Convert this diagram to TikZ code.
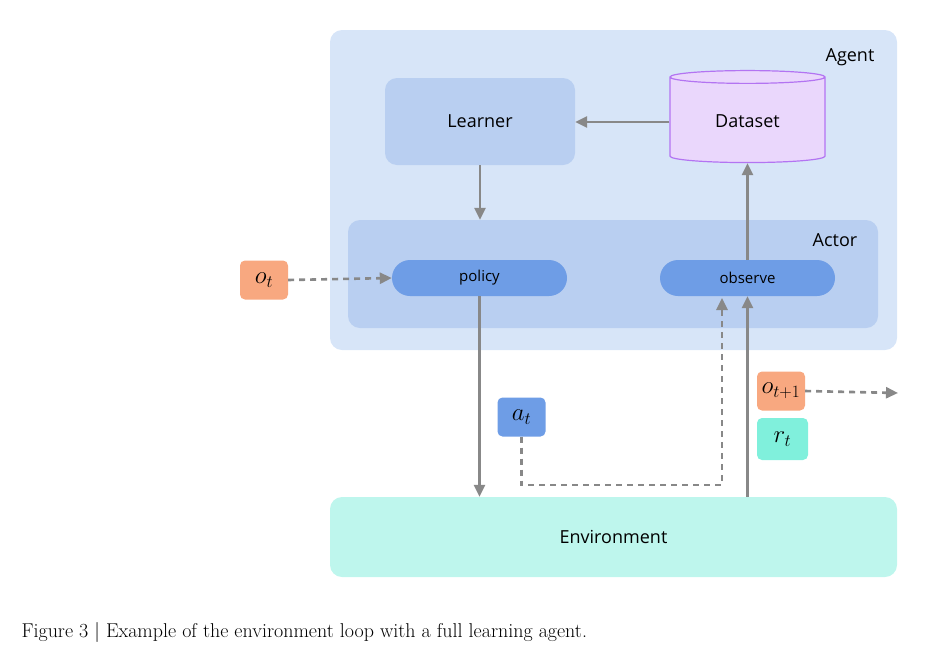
\documentclass[tikz,border=0pt]{standalone}
\usepackage{fontspec}
\setmainfont{Open Sans}
\newfontfamily\capfont{Latin Modern Roman}
\usetikzlibrary{shapes.geometric}
\usetikzlibrary{arrows.meta}
\definecolor{agentbg}{HTML}{D7E5F8}
\definecolor{inner}{HTML}{B9CFF1}
\definecolor{pill}{HTML}{6E9DE6}
\definecolor{dataf}{HTML}{EAD7FC}
\definecolor{datad}{HTML}{B374F2}
\definecolor{obs}{HTML}{F8A880}
\definecolor{rew}{HTML}{80F0DC}
\definecolor{envf}{HTML}{BEF6ED}
\definecolor{conn}{HTML}{888888}
\tikzset{
  box/.style={rounded corners=12pt,inner sep=0pt},
  tag/.style={rounded corners=5pt,inner sep=0pt,minimum width=48pt,minimum height=39pt,font=\fontsize{24}{24}\selectfont},
  flow/.style={line width=2.6pt,conn,-{Triangle[length=12pt,width=11pt]}},
  dflow/.style={flow,dash pattern=on 6pt off 5pt},
}
\begin{document}
\begin{tikzpicture}[x=1pt,y=-1pt]
    \useasboundingbox (0,0) rectangle (930,665);
    % Agent
    \node[box,fill=agentbg,minimum width=567pt,minimum height=320pt] (agent) at (613.5,190) {};
    \node[font=\fontsize{18}{18}\selectfont] (agentlbl) at (850,57) {Agent};
    \node[box,fill=inner,minimum width=190pt,minimum height=87pt,font=\fontsize{18}{18}\selectfont] (learner) at (480,121.5) {Learner};
    \node[cylinder,shape border rotate=90,aspect=0.18,draw=datad,line width=1.2pt,fill=dataf,minimum width=155pt,minimum height=92pt,font=\fontsize{18}{18}\selectfont] (dataset) at (747.5,121) {Dataset};
    % Actor
    \node[box,fill=inner,minimum width=530pt,minimum height=108pt] (actor) at (613,274) {};
    \node[font=\fontsize{18}{18}\selectfont] (actorlbl) at (835,240) {Actor};
    \node[box,rounded corners=18pt,fill=pill,minimum width=175pt,minimum height=36pt,font=\fontsize{15}{15}\selectfont] (policy) at (479.5,278) {policy};
    \node[box,rounded corners=18pt,fill=pill,minimum width=175pt,minimum height=36pt,font=\fontsize{15}{15}\selectfont] (observe) at (747.5,278) {observe};
    % Environment
    \node[box,fill=envf,minimum width=567pt,minimum height=80pt,font=\fontsize{18}{18}\selectfont] (env) at (613.5,537) {Environment};
    % Tags
    \node[tag,fill=obs] (ot) at (264,280) {$o_t$};
    \node[tag,fill=pill] (at) at (521.5,417) {$a_t$};
    \node[tag,fill=obs] (otn) at (781,391) {$o_{t+1}$};
    \node[tag,fill=rew,minimum width=51pt,minimum height=42pt] (rt) at (782.5,439) {$r_t$};
    \coordinate (out) at (898,393);
    % Connectors
    \draw[flow] (dataset.west |- 0,122) -- (learner.east |- 0,122);
    \draw[flow] (learner.south) -- (actor.north -| learner.south);
    \draw[dflow] (ot.east) -- (policy.west);
    \draw[flow] (observe.north) -- (dataset.south);
    \draw[flow] (policy.south) -- (env.north -| policy.south);
    \draw[dflow] (at.south) |- (722,485) -- (722,298);
    \draw[flow] (env.north -| observe.south) -- (observe.south);
    \draw[dflow] (otn.east) -- (out);
    % Caption
    \node[anchor=west,font=\capfont\fontsize{20}{20}\selectfont] (cap) at (18,632) {Figure 3 | Example of the environment loop with a full learning agent.};
\end{tikzpicture}
\end{document}
